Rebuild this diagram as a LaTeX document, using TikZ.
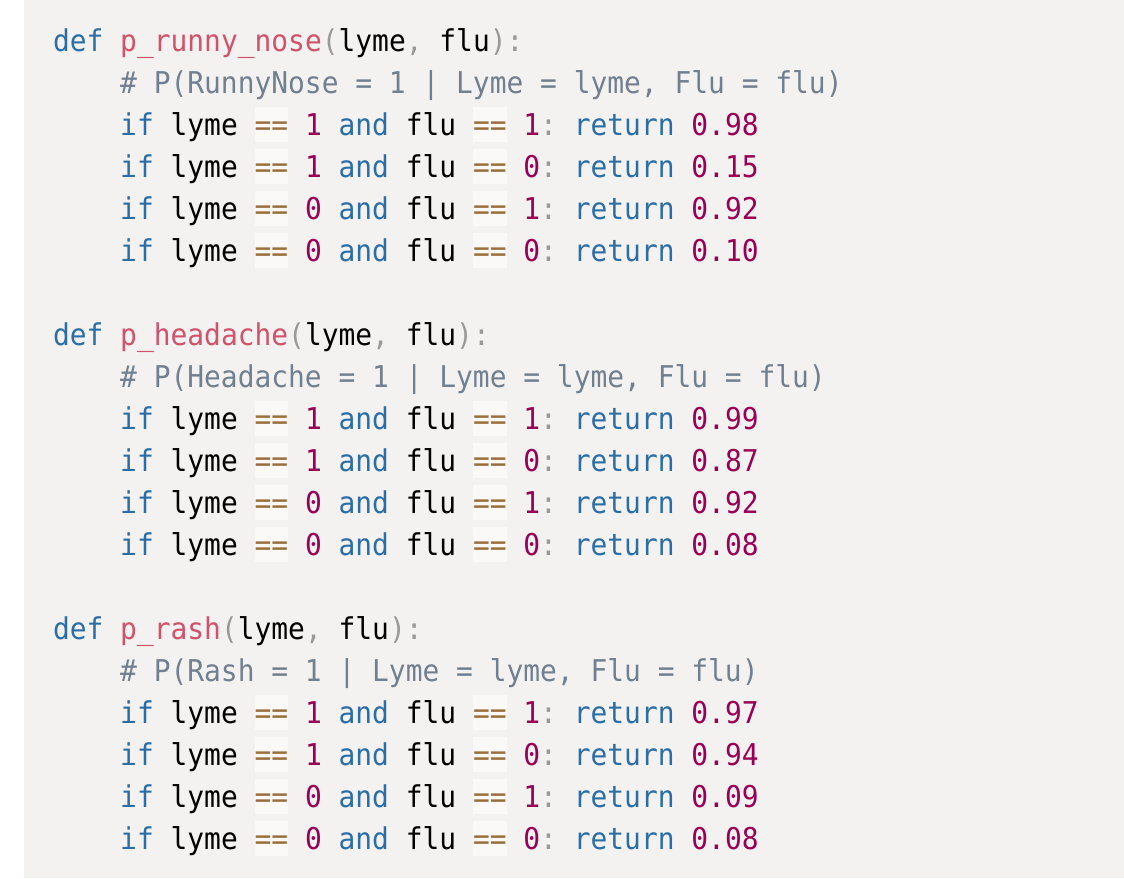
\documentclass[tikz,border=0pt]{standalone}
\usepackage{fontspec}
\newfontfamily\codefont[FakeStretch=0.9302]{DejaVu Sans Mono}
\definecolor{kw}{HTML}{2B6EA6}
\definecolor{fn}{HTML}{D0526B}
\definecolor{num}{HTML}{990055}
\definecolor{op}{HTML}{9A6E3A}
\definecolor{opbg}{HTML}{FAF9F8}
\definecolor{pun}{HTML}{999999}
\definecolor{com}{HTML}{708090}
\definecolor{codebg}{HTML}{F4F2F0}
\newcommand\K[1]{\textcolor{kw}{#1}}
\newcommand\F[1]{\textcolor{fn}{#1}}
\newcommand\N[1]{\textcolor{num}{#1}}
\newcommand\Pn[1]{\textcolor{pun}{#1}}
\newcommand\C[1]{\textcolor{com}{#1}}
\newcommand\OP{\makebox[0pt][l]{\textcolor{opbg}{\rule[-6.5pt]{33.6pt}{35pt}}}\textcolor{op}{==}}
\newcommand\IfLine[3]{\K{if} lyme \OP{} \N{#1} \K{and} flu \OP{} \N{#2}\Pn{:} \K{return} \N{#3}}
\tikzset{
  codeline/.style={anchor=base west, inner sep=0pt, outer sep=0pt,
    font=\codefont\fontsize{30}{42}\selectfont\frenchspacing, text=black},
  panel/.style={fill=codebg, draw=none},
}
\begin{document}
\begin{tikzpicture}[x=1pt,y=1pt]
\useasboundingbox (0,0) rectangle (1124,-878);
\fill[white] (0,0) rectangle (1124,-878);
\fill[panel] (24,0) rectangle (1124,-878);
% block 1
\node[codeline] (l1) at (53,-51) {\K{def} \F{p\_runny\_nose}\Pn{(}lyme\Pn{,} flu\Pn{):}};
\node[codeline] (l2) at (120.2,-93) {\C{\# P(RunnyNose = 1 | Lyme = lyme, Flu = flu)}};
\node[codeline] (l3) at (120.2,-135) {\IfLine{1}{1}{0.98}};
\node[codeline] (l4) at (120.2,-177) {\IfLine{1}{0}{0.15}};
\node[codeline] (l5) at (120.2,-219) {\IfLine{0}{1}{0.92}};
\node[codeline] (l6) at (120.2,-261) {\IfLine{0}{0}{0.10}};
% block 2
\node[codeline] (l8) at (53,-345) {\K{def} \F{p\_headache}\Pn{(}lyme\Pn{,} flu\Pn{):}};
\node[codeline] (l9) at (120.2,-387) {\C{\# P(Headache = 1 | Lyme = lyme, Flu = flu)}};
\node[codeline] (l10) at (120.2,-429) {\IfLine{1}{1}{0.99}};
\node[codeline] (l11) at (120.2,-471) {\IfLine{1}{0}{0.87}};
\node[codeline] (l12) at (120.2,-513) {\IfLine{0}{1}{0.92}};
\node[codeline] (l13) at (120.2,-555) {\IfLine{0}{0}{0.08}};
% block 3
\node[codeline] (l15) at (53,-639) {\K{def} \F{p\_rash}\Pn{(}lyme\Pn{,} flu\Pn{):}};
\node[codeline] (l16) at (120.2,-681) {\C{\# P(Rash = 1 | Lyme = lyme, Flu = flu)}};
\node[codeline] (l17) at (120.2,-723) {\IfLine{1}{1}{0.97}};
\node[codeline] (l18) at (120.2,-765) {\IfLine{1}{0}{0.94}};
\node[codeline] (l19) at (120.2,-807) {\IfLine{0}{1}{0.09}};
\node[codeline] (l20) at (120.2,-849) {\IfLine{0}{0}{0.08}};
\end{tikzpicture}
\end{document}
